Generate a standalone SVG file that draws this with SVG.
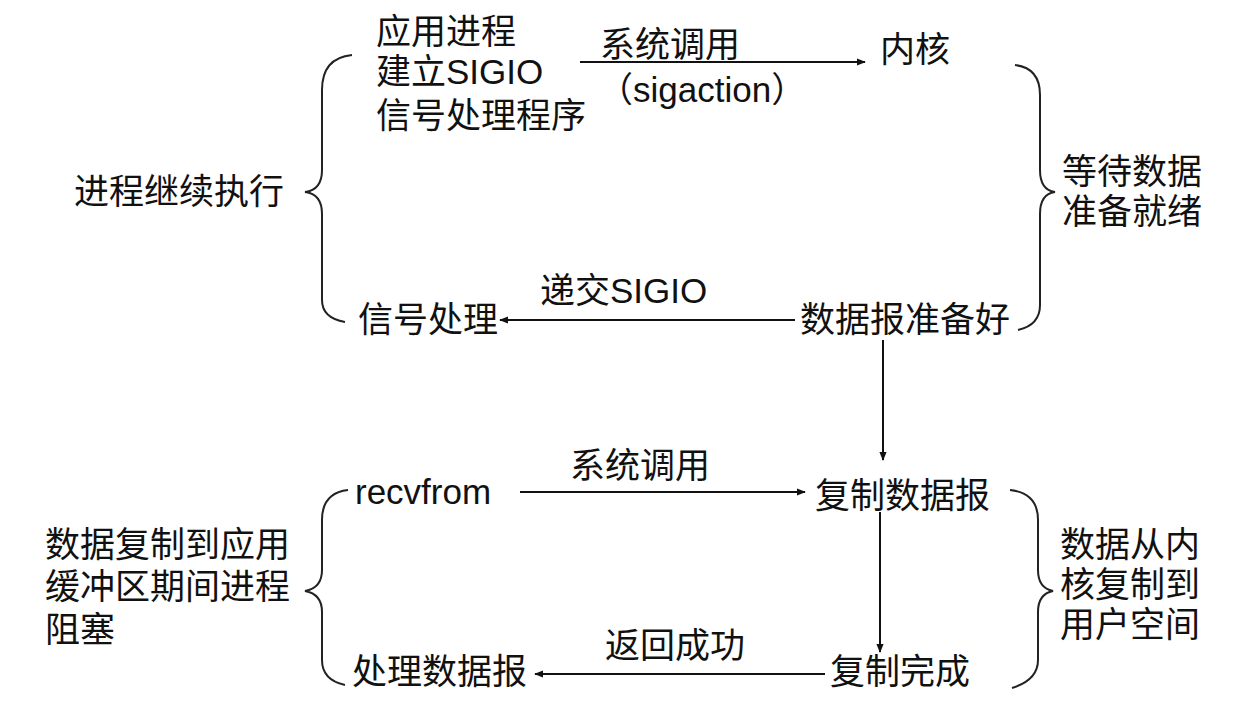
<svg xmlns="http://www.w3.org/2000/svg" width="1236" height="706" viewBox="0 0 1236 706">
<defs>
<marker id="ah" viewBox="0 0 10 10" refX="9" refY="5" markerWidth="9" markerHeight="9" markerUnits="userSpaceOnUse" orient="auto"><path d="M0,1 L10,5 L0,9 Z" fill="#111"/></marker>
<style>
text{font-family:"Liberation Sans","Noto Sans CJK SC",sans-serif;font-size:35px;fill:#111}
.c{stroke:#111;stroke-width:2;fill:none}
.b{stroke:#222;stroke-width:2;fill:none}
</style>
</defs>
<rect width="1236" height="706" fill="#fff"/>
<g id="braces">
<path class="b" d="M352,55 Q322,58 322,90 L322,170 Q322,190 305,192 Q322,194 322,214 L322,300 Q322,318 345,322"/>
<path class="b" d="M1015,65 Q1040,68 1040,95 L1040,170 Q1040,190 1055,192 Q1040,194 1040,214 L1040,305 Q1040,325 1018,330"/>
<path class="b" d="M348,490 Q322,493 322,520 L322,570 Q322,588 305,591 Q322,594 322,612 L322,660 Q322,680 345,685"/>
<path class="b" d="M1010,490 Q1038,493 1038,520 L1038,570 Q1038,588 1053,591 Q1038,594 1038,612 L1038,660 Q1038,680 1012,688"/>
</g>
<g id="connectors">
<line class="c" x1="580" y1="62" x2="865" y2="62" marker-end="url(#ah)"/>
<line class="c" x1="795" y1="320" x2="500" y2="320" marker-end="url(#ah)"/>
<line class="c" x1="883" y1="340" x2="883" y2="460" marker-end="url(#ah)"/>
<line class="c" x1="520" y1="492" x2="805" y2="492" marker-end="url(#ah)"/>
<line class="c" x1="880" y1="512" x2="880" y2="652" marker-end="url(#ah)"/>
<line class="c" x1="825" y1="674" x2="535" y2="674" marker-end="url(#ah)"/>
</g>
<g id="labels">
<text x="600" y="57">系统调用</text>
<text x="598" y="102">（sigaction）</text>
<text x="540" y="303">递交SIGIO</text>
<text x="570" y="478">系统调用</text>
<text x="605" y="658">返回成功</text>
</g>
<g id="n-app"><text x="376" y="44">应用进程</text><text x="376" y="84">建立SIGIO</text><text x="376" y="128">信号处理程序</text></g>
<g id="n-kernel"><text x="880" y="62">内核</text></g>
<g id="n-wait"><text x="1062" y="184">等待数据</text><text x="1062" y="224">准备就绪</text></g>
<g id="n-cont"><text x="74" y="204">进程继续执行</text></g>
<g id="n-sig"><text x="358" y="332">信号处理</text></g>
<g id="n-ready"><text x="800" y="332">数据报准备好</text></g>
<g id="n-recv"><text x="355" y="504">recvfrom</text></g>
<g id="n-copy"><text x="815" y="508">复制数据报</text></g>
<g id="n-k2u"><text x="1060" y="557">数据从内</text><text x="1060" y="597">核复制到</text><text x="1060" y="637">用户空间</text></g>
<g id="n-block"><text x="45" y="557">数据复制到应用</text><text x="45" y="599">缓冲区期间进程</text><text x="45" y="642">阻塞</text></g>
<g id="n-proc"><text x="352" y="684">处理数据报</text></g>
<g id="n-done"><text x="830" y="684">复制完成</text></g>
</svg>
